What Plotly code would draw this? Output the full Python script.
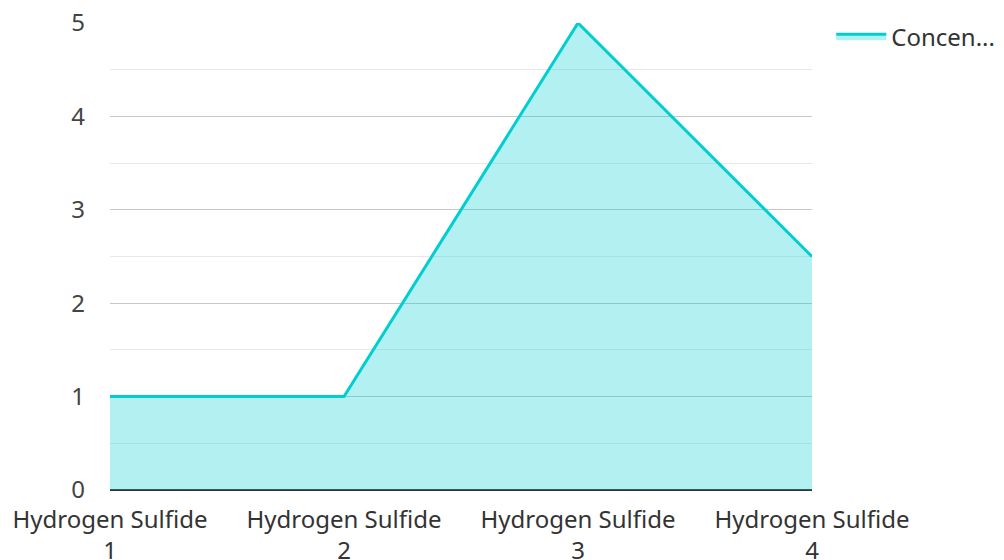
import plotly.graph_objects as go

categories = ["Hydrogen Sulfide<br>1", "Hydrogen Sulfide<br>2", "Hydrogen Sulfide<br>3", "Hydrogen Sulfide<br>4"]
values = [1, 1, 5, 2.5]
series_name = "Concen..."
y_ticks = [0, 1, 2, 3, 4, 5]

fig = go.Figure()
fig.add_trace(go.Scatter(
    x=list(range(len(categories))), y=values, name=series_name,
    mode="lines", fill="tozeroy",
    line=dict(color="#00CED1", width=3),
    fillcolor="rgba(0,206,209,0.3)",
))

fig.update_layout(
    width=1004, height=560,
    margin=dict(l=110, r=192, t=23, b=70, autoexpand=False),
    paper_bgcolor="white", plot_bgcolor="white",
    font=dict(family="Noto Sans", size=24, color="#444"),
    showlegend=True,
    legend=dict(x=1.0274, y=1.019, xanchor="left", yanchor="top", itemwidth=50,
                font=dict(size=24, color="#333"), bgcolor="rgba(0,0,0,0)"),
    xaxis=dict(
        tickmode="array", tickvals=list(range(len(categories))), ticktext=categories,
        range=[0, len(categories) - 1], showgrid=False, zeroline=False,
        showline=False, ticks="", tickfont=dict(size=24, color="#333"),
        automargin=False, ticklabelstandoff=13,
    ),
    yaxis=dict(
        range=[0, 5], tickvals=y_ticks, showgrid=True, gridcolor="#c8c8c8", gridwidth=1,
        zeroline=True, zerolinecolor="#333", zerolinewidth=2,
        showline=False, ticks="", ticklabelstandoff=24, automargin=False,
        tickfont=dict(size=24, color="#444"),
        minor=dict(dtick=0.5, showgrid=True, gridcolor="#e8e8e8", gridwidth=1),
    ),
)

fig.write_html("out.html", config={"displayModeBar": False},
               post_script="document.body.style.margin='0';")
